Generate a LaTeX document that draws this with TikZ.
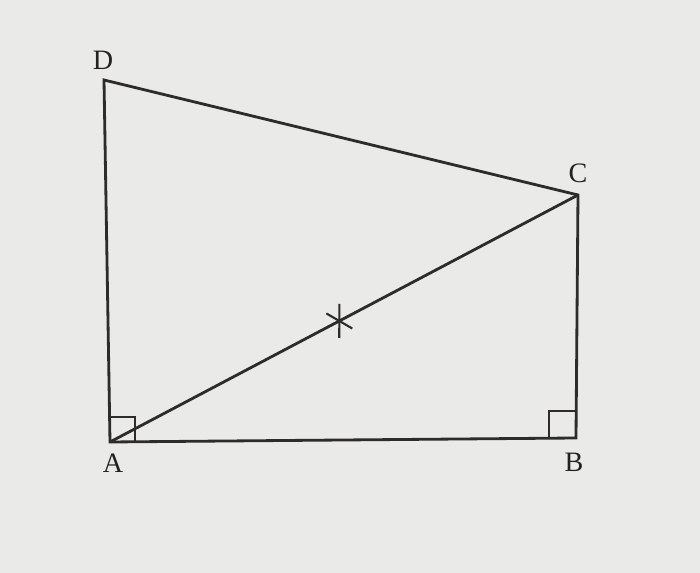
\documentclass[tikz,border=0pt]{standalone}
\usepackage{fontspec}
\setmainfont{Liberation Serif}
\usetikzlibrary{calc}

\begin{document}
\begin{tikzpicture}[x=0.02cm, y=-0.02cm,
        side/.style = {line width=1.6pt, draw={rgb,255:red,45;green,43;blue,43}},
        rightangle/.style = {line width=0.8pt, draw={rgb,255:red,45;green,43;blue,43}},
        vlabel/.style = {font=\fontsize{16}{18}\selectfont, text={rgb,255:red,35;green,33;blue,33}}]
        \fill[fill={rgb,255:red,234;green,234;blue,232}] (0,0) rectangle (700,573);
        \useasboundingbox (0,0) rectangle (700,573);

        \coordinate (A) at (110,442);
        \coordinate (B) at (576,438);
        \coordinate (C) at (578,195);
        \coordinate (D) at (104,80);
        \coordinate (M) at ($(A)!0.49!(C)$);

        \node[vlabel] at (103,60) (LD) {D};
        \node[vlabel] at (578,173) (LC) {C};
        \node[vlabel] at (113,463) (LA) {A};
        \node[vlabel] at (574,462) (LB) {B};

        \draw [side] (A) -- (B) -- (C) -- (D) -- cycle;
        \draw [side] (A) -- (C);

        \draw [rightangle] (A) ++(0,-25) -| ++(25,25);
        \draw [rightangle] (B) ++(-27,0) |- ++(27,-27);

        \draw [side, line width=1.2pt] ($(M)!0.34cm!62:(C)$) -- ($(M)!0.34cm!242:(C)$);
        \draw [side, line width=1.2pt] ($(M)!0.3cm!-58:(C)$) -- ($(M)!0.3cm!122:(C)$);
\end{tikzpicture}
\end{document}
